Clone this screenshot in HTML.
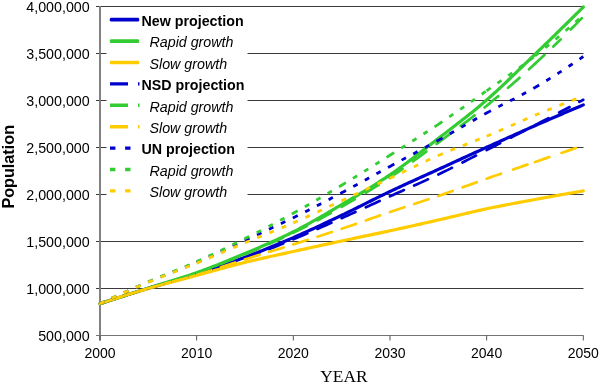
<!DOCTYPE html>
<html><head><meta charset="utf-8"><title>Population projections</title>
<style>
html,body{margin:0;padding:0;background:#fff;}
svg{display:block;}
text{font-family:"Liberation Sans",Arial,sans-serif;font-size:14px;fill:#000;}
.grid line{stroke:#3a3a3a;stroke-width:1;}
.ticks line{stroke:#555;stroke-width:1;}
.axis line{stroke:#7c7c7c;stroke-width:1.9;}
</style></head><body>
<svg width="600" height="385" viewBox="0 0 600 385">
<rect width="600" height="385" fill="#fff"/>
<g class="grid">
<line x1="96" x2="583.5" y1="6.50" y2="6.50"/>
<line x1="96" x2="583.5" y1="53.50" y2="53.50"/>
<line x1="96" x2="583.5" y1="100.50" y2="100.50"/>
<line x1="96" x2="583.5" y1="147.50" y2="147.50"/>
<line x1="96" x2="583.5" y1="194.50" y2="194.50"/>
<line x1="96" x2="583.5" y1="241.50" y2="241.50"/>
<line x1="96" x2="583.5" y1="288.50" y2="288.50"/>
<line x1="96" x2="583.5" y1="335.50" y2="335.50" style="stroke:#747474"/>
</g>
<rect x="106.5" y="8" width="141" height="193" fill="#fff"/>
<g class="axis"><line x1="100" x2="100" y1="6" y2="340.5"/></g>
<g class="ticks"><line x1="100.00" x2="100.00" y1="335.50" y2="340.50"/>
<line x1="196.66" x2="196.66" y1="335.50" y2="340.50"/>
<line x1="293.32" x2="293.32" y1="335.50" y2="340.50"/>
<line x1="389.98" x2="389.98" y1="335.50" y2="340.50"/>
<line x1="486.64" x2="486.64" y1="335.50" y2="340.50"/>
<line x1="583.30" x2="583.30" y1="335.50" y2="340.50"/></g>
<g>
<path d="M100.00 303.70 L102.42 302.90 L104.83 302.11 L107.25 301.32 L109.67 300.53 L112.08 299.75 L114.50 298.96 L116.92 298.18 L119.33 297.41 L121.75 296.63 L124.16 295.86 L126.58 295.09 L129.00 294.33 L131.41 293.56 L133.83 292.80 L136.25 292.05 L138.66 291.29 L141.08 290.54 L143.50 289.79 L145.91 289.04 L148.33 288.30 L150.75 287.56 L153.16 286.84 L155.58 286.12 L158.00 285.41 L160.41 284.70 L162.83 284.00 L165.25 283.31 L167.66 282.62 L170.08 281.92 L172.50 281.23 L174.91 280.54 L177.33 279.84 L179.74 279.14 L182.16 278.43 L184.58 277.72 L186.99 277.00 L189.41 276.26 L191.83 275.52 L194.24 274.77 L196.66 274.00 L199.08 273.22 L201.49 272.44 L203.91 271.65 L206.33 270.86 L208.74 270.06 L211.16 269.26 L213.58 268.45 L215.99 267.64 L218.41 266.82 L220.82 265.99 L223.24 265.15 L225.66 264.31 L228.07 263.46 L230.49 262.61 L232.91 261.74 L235.32 260.87 L237.74 259.99 L240.16 259.10 L242.57 258.21 L244.99 257.30 L247.41 256.39 L249.82 255.46 L252.24 254.53 L254.66 253.59 L257.07 252.65 L259.49 251.69 L261.91 250.73 L264.32 249.76 L266.74 248.78 L269.15 247.80 L271.57 246.81 L273.99 245.81 L276.40 244.81 L278.82 243.80 L281.24 242.78 L283.65 241.75 L286.07 240.72 L288.49 239.69 L290.90 238.65 L293.32 237.60 L295.74 236.55 L298.15 235.48 L300.57 234.41 L302.99 233.33 L305.40 232.24 L307.82 231.15 L310.24 230.05 L312.65 228.94 L315.07 227.83 L317.48 226.71 L319.90 225.58 L322.32 224.45 L324.73 223.32 L327.15 222.18 L329.57 221.04 L331.98 219.90 L334.40 218.75 L336.82 217.60 L339.23 216.45 L341.65 215.30 L344.07 214.14 L346.48 212.97 L348.90 211.80 L351.32 210.61 L353.73 209.42 L356.15 208.22 L358.57 207.01 L360.98 205.81 L363.40 204.60 L365.81 203.39 L368.23 202.18 L370.65 200.97 L373.06 199.76 L375.48 198.56 L377.90 197.37 L380.31 196.18 L382.73 194.99 L385.15 193.82 L387.56 192.65 L389.98 191.50 L392.40 190.36 L394.81 189.22 L397.23 188.09 L399.65 186.97 L402.06 185.86 L404.48 184.75 L406.90 183.64 L409.31 182.54 L411.73 181.44 L414.14 180.34 L416.56 179.25 L418.98 178.16 L421.39 177.07 L423.81 175.98 L426.23 174.89 L428.64 173.79 L431.06 172.70 L433.48 171.60 L435.89 170.50 L438.31 169.40 L440.73 168.29 L443.14 167.19 L445.56 166.08 L447.98 164.97 L450.39 163.86 L452.81 162.75 L455.23 161.65 L457.64 160.54 L460.06 159.43 L462.48 158.32 L464.89 157.21 L467.31 156.10 L469.72 155.00 L472.14 153.89 L474.56 152.79 L476.97 151.69 L479.39 150.59 L481.81 149.49 L484.22 148.39 L486.64 147.30 L489.06 146.21 L491.47 145.12 L493.89 144.03 L496.31 142.94 L498.72 141.85 L501.14 140.76 L503.56 139.67 L505.97 138.59 L508.39 137.50 L510.80 136.42 L513.22 135.34 L515.64 134.26 L518.05 133.18 L520.47 132.11 L522.89 131.03 L525.30 129.96 L527.72 128.89 L530.14 127.83 L532.55 126.76 L534.97 125.70 L537.39 124.64 L539.80 123.58 L542.22 122.53 L544.64 121.48 L547.05 120.42 L549.47 119.38 L551.89 118.33 L554.30 117.28 L556.72 116.24 L559.13 115.20 L561.55 114.16 L563.97 113.12 L566.38 112.09 L568.80 111.06 L571.22 110.03 L573.63 109.00 L576.05 107.97 L578.47 106.94 L580.88 105.92 L583.30 104.90" fill="none" stroke="#0000cc" stroke-width="3.2" stroke-linecap="round" stroke-linejoin="round"/>
<path d="M100.00 303.70 L102.42 302.92 L104.83 302.13 L107.25 301.35 L109.67 300.56 L112.08 299.78 L114.50 299.00 L116.92 298.22 L119.33 297.44 L121.75 296.66 L124.16 295.88 L126.58 295.10 L129.00 294.32 L131.41 293.54 L133.83 292.76 L136.25 291.98 L138.66 291.20 L141.08 290.43 L143.50 289.65 L145.91 288.88 L148.33 288.10 L150.75 287.33 L153.16 286.57 L155.58 285.82 L158.00 285.07 L160.41 284.33 L162.83 283.59 L165.25 282.85 L167.66 282.11 L170.08 281.37 L172.50 280.62 L174.91 279.88 L177.33 279.12 L179.74 278.36 L182.16 277.59 L184.58 276.81 L186.99 276.02 L189.41 275.21 L191.83 274.39 L194.24 273.56 L196.66 272.70 L199.08 271.83 L201.49 270.95 L203.91 270.05 L206.33 269.14 L208.74 268.23 L211.16 267.30 L213.58 266.36 L215.99 265.41 L218.41 264.46 L220.82 263.49 L223.24 262.52 L225.66 261.54 L228.07 260.56 L230.49 259.56 L232.91 258.56 L235.32 257.56 L237.74 256.55 L240.16 255.54 L242.57 254.52 L244.99 253.50 L247.41 252.48 L249.82 251.46 L252.24 250.43 L254.66 249.41 L257.07 248.38 L259.49 247.35 L261.91 246.31 L264.32 245.26 L266.74 244.21 L269.15 243.15 L271.57 242.08 L273.99 241.00 L276.40 239.90 L278.82 238.79 L281.24 237.67 L283.65 236.53 L286.07 235.38 L288.49 234.20 L290.90 233.01 L293.32 231.80 L295.74 230.57 L298.15 229.31 L300.57 228.04 L302.99 226.75 L305.40 225.45 L307.82 224.13 L310.24 222.79 L312.65 221.44 L315.07 220.08 L317.48 218.71 L319.90 217.32 L322.32 215.93 L324.73 214.53 L327.15 213.12 L329.57 211.71 L331.98 210.29 L334.40 208.87 L336.82 207.45 L339.23 206.03 L341.65 204.60 L344.07 203.18 L346.48 201.75 L348.90 200.33 L351.32 198.91 L353.73 197.49 L356.15 196.06 L358.57 194.62 L360.98 193.18 L363.40 191.73 L365.81 190.27 L368.23 188.80 L370.65 187.31 L373.06 185.81 L375.48 184.30 L377.90 182.77 L380.31 181.22 L382.73 179.65 L385.15 178.05 L387.56 176.44 L389.98 174.80 L392.40 173.13 L394.81 171.44 L397.23 169.73 L399.65 167.99 L402.06 166.23 L404.48 164.46 L406.90 162.66 L409.31 160.85 L411.73 159.03 L414.14 157.19 L416.56 155.35 L418.98 153.49 L421.39 151.63 L423.81 149.76 L426.23 147.88 L428.64 146.00 L431.06 144.13 L433.48 142.25 L435.89 140.37 L438.31 138.50 L440.73 136.63 L443.14 134.77 L445.56 132.91 L447.98 131.06 L450.39 129.20 L452.81 127.34 L455.23 125.47 L457.64 123.60 L460.06 121.73 L462.48 119.84 L464.89 117.94 L467.31 116.02 L469.72 114.09 L472.14 112.15 L474.56 110.18 L476.97 108.20 L479.39 106.19 L481.81 104.15 L484.22 102.09 L486.64 100.00 L489.06 97.88 L491.47 95.73 L493.89 93.55 L496.31 91.35 L498.72 89.12 L501.14 86.87 L503.56 84.60 L505.97 82.32 L508.39 80.01 L510.80 77.70 L513.22 75.37 L515.64 73.04 L518.05 70.70 L520.47 68.35 L522.89 66.01 L525.30 63.66 L527.72 61.31 L530.14 58.97 L532.55 56.63 L534.97 54.30 L537.39 51.97 L539.80 49.64 L542.22 47.31 L544.64 44.97 L547.05 42.62 L549.47 40.28 L551.89 37.93 L554.30 35.57 L556.72 33.21 L559.13 30.85 L561.55 28.48 L563.97 26.11 L566.38 23.74 L568.80 21.36 L571.22 18.97 L573.63 16.59 L576.05 14.20 L578.47 11.80 L580.88 9.40 L583.30 7.00" fill="none" stroke="#33cc33" stroke-width="3.2" stroke-linecap="round" stroke-linejoin="round"/>
<path d="M100.00 303.70 L102.42 302.89 L104.83 302.09 L107.25 301.29 L109.67 300.49 L112.08 299.70 L114.50 298.92 L116.92 298.14 L119.33 297.37 L121.75 296.60 L124.16 295.84 L126.58 295.08 L129.00 294.33 L131.41 293.58 L133.83 292.84 L136.25 292.10 L138.66 291.37 L141.08 290.65 L143.50 289.93 L145.91 289.21 L148.33 288.50 L150.75 287.80 L153.16 287.10 L155.58 286.42 L158.00 285.74 L160.41 285.08 L162.83 284.41 L165.25 283.76 L167.66 283.10 L170.08 282.46 L172.50 281.81 L174.91 281.17 L177.33 280.53 L179.74 279.89 L182.16 279.26 L184.58 278.62 L186.99 277.98 L189.41 277.34 L191.83 276.70 L194.24 276.05 L196.66 275.40 L199.08 274.75 L201.49 274.09 L203.91 273.42 L206.33 272.76 L208.74 272.09 L211.16 271.43 L213.58 270.76 L215.99 270.09 L218.41 269.43 L220.82 268.76 L223.24 268.10 L225.66 267.44 L228.07 266.79 L230.49 266.14 L232.91 265.50 L235.32 264.86 L237.74 264.24 L240.16 263.61 L242.57 263.00 L244.99 262.40 L247.41 261.81 L249.82 261.22 L252.24 260.65 L254.66 260.08 L257.07 259.52 L259.49 258.96 L261.91 258.41 L264.32 257.87 L266.74 257.33 L269.15 256.79 L271.57 256.26 L273.99 255.73 L276.40 255.20 L278.82 254.67 L281.24 254.15 L283.65 253.62 L286.07 253.09 L288.49 252.56 L290.90 252.03 L293.32 251.50 L295.74 250.97 L298.15 250.43 L300.57 249.90 L302.99 249.37 L305.40 248.84 L307.82 248.31 L310.24 247.78 L312.65 247.26 L315.07 246.73 L317.48 246.21 L319.90 245.68 L322.32 245.16 L324.73 244.64 L327.15 244.12 L329.57 243.59 L331.98 243.07 L334.40 242.55 L336.82 242.04 L339.23 241.52 L341.65 241.00 L344.07 240.48 L346.48 239.97 L348.90 239.46 L351.32 238.95 L353.73 238.44 L356.15 237.94 L358.57 237.43 L360.98 236.93 L363.40 236.42 L365.81 235.92 L368.23 235.41 L370.65 234.91 L373.06 234.40 L375.48 233.89 L377.90 233.39 L380.31 232.87 L382.73 232.36 L385.15 231.84 L387.56 231.32 L389.98 230.80 L392.40 230.27 L394.81 229.75 L397.23 229.22 L399.65 228.68 L402.06 228.15 L404.48 227.62 L406.90 227.08 L409.31 226.54 L411.73 226.00 L414.14 225.46 L416.56 224.92 L418.98 224.38 L421.39 223.83 L423.81 223.29 L426.23 222.74 L428.64 222.20 L431.06 221.65 L433.48 221.10 L435.89 220.55 L438.31 220.00 L440.73 219.45 L443.14 218.89 L445.56 218.32 L447.98 217.76 L450.39 217.18 L452.81 216.61 L455.23 216.03 L457.64 215.46 L460.06 214.88 L462.48 214.31 L464.89 213.73 L467.31 213.16 L469.72 212.60 L472.14 212.03 L474.56 211.48 L476.97 210.92 L479.39 210.38 L481.81 209.84 L484.22 209.32 L486.64 208.80 L489.06 208.29 L491.47 207.79 L493.89 207.30 L496.31 206.81 L498.72 206.33 L501.14 205.85 L503.56 205.38 L505.97 204.91 L508.39 204.45 L510.80 203.99 L513.22 203.53 L515.64 203.08 L518.05 202.63 L520.47 202.18 L522.89 201.73 L525.30 201.28 L527.72 200.84 L530.14 200.39 L532.55 199.95 L534.97 199.50 L537.39 199.05 L539.80 198.61 L542.22 198.17 L544.64 197.72 L547.05 197.28 L549.47 196.85 L551.89 196.41 L554.30 195.98 L556.72 195.54 L559.13 195.11 L561.55 194.68 L563.97 194.26 L566.38 193.83 L568.80 193.41 L571.22 192.98 L573.63 192.56 L576.05 192.15 L578.47 191.73 L580.88 191.31 L583.30 190.90" fill="none" stroke="#ffcc00" stroke-width="3.2" stroke-linecap="round" stroke-linejoin="round"/>
<path d="M100.00 303.70 L103.02 302.70 L106.04 301.70 L109.06 300.71 L112.08 299.73 L115.10 298.75 L118.12 297.77 L121.14 296.80 L124.16 295.84 M124.16 295.84 L127.19 294.88 L130.21 293.92 L133.23 292.97 L136.25 292.03 L139.27 291.09 L142.29 290.15 L145.31 289.22 L148.33 288.30 M148.33 288.30 L151.35 287.39 L154.37 286.49 L157.39 285.60 L160.41 284.73 L163.43 283.86 L166.45 283.00 L169.47 282.14 L172.50 281.29 M172.50 281.29 L175.52 280.43 L178.54 279.57 L181.56 278.70 L184.58 277.83 L187.60 276.94 L190.62 276.04 L193.64 275.13 L196.66 274.20 M196.66 274.20 L199.68 273.26 L202.70 272.31 L205.72 271.36 L208.74 270.40 L211.76 269.44 L214.78 268.47 L217.80 267.49 L220.82 266.50 M220.82 266.50 L223.85 265.50 L226.87 264.50 L229.89 263.48 L232.91 262.45 L235.93 261.41 L238.95 260.35 L241.97 259.28 L244.99 258.20 M244.99 258.20 L248.01 257.10 L251.03 255.99 L254.05 254.87 L257.07 253.73 L260.09 252.58 L263.11 251.42 L266.13 250.25 L269.15 249.07 M269.15 249.07 L272.18 247.88 L275.20 246.68 L278.22 245.47 L281.24 244.25 L284.26 243.02 L287.28 241.79 L290.30 240.55 L293.32 239.30 M293.32 239.30 L296.34 238.04 L299.36 236.77 L302.38 235.49 L305.40 234.20 L308.42 232.90 L311.44 231.58 L314.46 230.26 L317.48 228.94 M317.48 228.94 L320.51 227.61 L323.53 226.27 L326.55 224.93 L329.57 223.58 L332.59 222.24 L335.61 220.89 L338.63 219.54 L341.65 218.20 M341.65 218.20 L344.67 216.85 L347.69 215.50 L350.71 214.14 L353.73 212.78 L356.75 211.41 L359.77 210.04 L362.79 208.67 L365.81 207.29 M365.81 207.29 L368.84 205.92 L371.86 204.54 L374.88 203.16 L377.90 201.79 L380.92 200.41 L383.94 199.04 L386.96 197.67 L389.98 196.30 M389.98 196.30 L393.00 194.94 L396.02 193.59 L399.04 192.24 L402.06 190.90 L405.08 189.57 L408.10 188.23 L411.12 186.90 L414.14 185.56 M414.14 185.56 L417.17 184.21 L420.19 182.86 L423.21 181.50 L426.23 180.13 L429.25 178.75 L432.27 177.35 L435.29 175.93 L438.31 174.50 M438.31 174.50 L441.33 173.05 L444.35 171.58 L447.37 170.09 L450.39 168.59 L453.41 167.08 L456.43 165.56 L459.45 164.03 L462.48 162.49 M462.48 162.49 L465.50 160.95 L468.52 159.40 L471.54 157.85 L474.56 156.30 L477.58 154.74 L480.60 153.19 L483.62 151.64 L486.64 150.10 M486.64 150.10 L489.66 148.56 L492.68 147.01 L495.70 145.47 L498.72 143.92 L501.74 142.37 L504.76 140.82 L507.78 139.27 L510.80 137.71 M510.80 137.71 L513.83 136.16 L516.85 134.60 L519.87 133.03 L522.89 131.47 L525.91 129.91 L528.93 128.34 L531.95 126.77 L534.97 125.20 M534.97 125.20 L537.99 123.63 L541.01 122.05 L544.03 120.48 L547.05 118.90 L550.07 117.32 L553.09 115.73 L556.11 114.15 L559.13 112.56" fill="none" stroke="#0000cc" stroke-width="2.7" stroke-dasharray="15.2 12.8" stroke-linecap="round"/>
<path d="M559.13 112.56 L561.55 111.29 L563.97 110.02 L566.38 108.75 L568.80 107.47 L571.22 106.20 L573.63 104.92 L576.05 103.64 L578.47 102.36 L580.88 101.08 L583.30 99.80" fill="none" stroke="#0000cc" stroke-width="2.7" stroke-dasharray="11.8 11 20 50" stroke-linecap="round"/>
<path d="M100.00 303.70 L103.02 302.73 L106.04 301.75 L109.06 300.78 L112.08 299.81 L115.10 298.83 L118.12 297.86 L121.14 296.89 L124.16 295.93 M124.16 295.93 L127.19 294.96 L130.21 293.99 L133.23 293.02 L136.25 292.06 L139.27 291.09 L142.29 290.13 L145.31 289.16 L148.33 288.20 M148.33 288.20 L151.35 287.24 L154.37 286.30 L157.39 285.37 L160.41 284.44 L163.43 283.52 L166.45 282.60 L169.47 281.68 L172.50 280.75 M172.50 280.75 L175.52 279.82 L178.54 278.88 L181.56 277.93 L184.58 276.96 L187.60 275.98 L190.62 274.97 L193.64 273.95 L196.66 272.90 M196.66 272.90 L199.68 271.83 L202.70 270.74 L205.72 269.64 L208.74 268.53 L211.76 267.40 L214.78 266.26 L217.80 265.10 L220.82 263.93 M220.82 263.93 L223.85 262.75 L226.87 261.56 L229.89 260.36 L232.91 259.14 L235.93 257.92 L238.95 256.69 L241.97 255.45 L244.99 254.20 M244.99 254.20 L248.01 252.94 L251.03 251.68 L254.05 250.42 L257.07 249.15 L260.09 247.86 L263.11 246.57 L266.13 245.27 L269.15 243.95 M269.15 243.95 L272.18 242.62 L275.20 241.27 L278.22 239.91 L281.24 238.53 L284.26 237.13 L287.28 235.71 L290.30 234.27 L293.32 232.80 M293.32 232.80 L296.34 231.31 L299.36 229.80 L302.38 228.27 L305.40 226.72 L308.42 225.16 L311.44 223.57 L314.46 221.97 L317.48 220.35 M317.48 220.35 L320.51 218.72 L323.53 217.07 L326.55 215.40 L329.57 213.73 L332.59 212.04 L335.61 210.34 L338.63 208.62 L341.65 206.90 M341.65 206.90 L344.67 205.17 L347.69 203.43 L350.71 201.68 L353.73 199.93 L356.75 198.16 L359.77 196.37 L362.79 194.58 L365.81 192.76 M365.81 192.76 L368.84 190.93 L371.86 189.08 L374.88 187.21 L377.90 185.32 L380.92 183.40 L383.94 181.46 L386.96 179.49 L389.98 177.50 M389.98 177.50 L393.00 175.47 L396.02 173.41 L399.04 171.32 L402.06 169.21 L405.08 167.06 L408.10 164.90 L411.12 162.71 L414.14 160.51 M414.14 160.51 L417.17 158.30 L420.19 156.07 L423.21 153.83 L426.23 151.59 L429.25 149.34 L432.27 147.09 L435.29 144.84 L438.31 142.60 M438.31 142.60 L441.33 140.36 L444.35 138.13 L447.37 135.89 L450.39 133.66 L453.41 131.41 L456.43 129.17 L459.45 126.91 L462.48 124.64 M462.48 124.64 L465.50 122.36 L468.52 120.06 L471.54 117.75 L474.56 115.41 L477.58 113.05 L480.60 110.66 L483.62 108.25 L486.64 105.80 M486.64 105.80 L489.66 103.33 L492.68 100.83 L495.70 98.32 L498.72 95.79 L501.74 93.23 L504.76 90.65 L507.78 88.06 L510.80 85.44 L513.83 82.81 L516.85 80.15 L519.87 77.48 L522.89 74.78 L525.91 72.06 L528.93 69.33 L531.95 66.57 L534.97 63.80" fill="none" stroke="#33cc33" stroke-width="2.7" stroke-dasharray="15.2 12.8" stroke-linecap="round"/>
<path d="M534.97 63.80 L537.39 61.57 L539.80 59.32 L542.22 57.06 L544.64 54.79 L547.05 52.50 L549.47 50.21 L551.89 47.90 L554.30 45.57 L556.72 43.24 L559.13 40.89 L561.55 38.53 L563.97 36.15 L566.38 33.77 L568.80 31.37 L571.22 28.95 L573.63 26.53 L576.05 24.09 L578.47 21.64 L580.88 19.18 L583.30 16.70" fill="none" stroke="#33cc33" stroke-width="2.7" stroke-dasharray="13 12 10.5 14 16 50" stroke-linecap="round"/>
<path d="M100.00 303.70 L103.02 302.69 L106.04 301.68 L109.06 300.69 L112.08 299.70 L115.10 298.71 L118.12 297.74 L121.14 296.77 L124.16 295.81 M124.16 295.81 L127.19 294.86 L130.21 293.91 L133.23 292.98 L136.25 292.05 L139.27 291.12 L142.29 290.21 L145.31 289.30 L148.33 288.40 M148.33 288.40 L151.35 287.51 L154.37 286.65 L157.39 285.80 L160.41 284.97 L163.43 284.15 L166.45 283.33 L169.47 282.52 L172.50 281.72 M172.50 281.72 L175.52 280.91 L178.54 280.10 L181.56 279.29 L184.58 278.46 L187.60 277.62 L190.62 276.77 L193.64 275.89 L196.66 275.00 M196.66 275.00 L199.68 274.08 L202.70 273.15 L205.72 272.20 L208.74 271.24 L211.76 270.27 L214.78 269.28 L217.80 268.29 L220.82 267.30 M220.82 267.30 L223.85 266.30 L226.87 265.30 L229.89 264.30 L232.91 263.31 L235.93 262.32 L238.95 261.34 L241.97 260.36 L244.99 259.40 M244.99 259.40 L248.01 258.45 L251.03 257.50 L254.05 256.56 L257.07 255.62 L260.09 254.69 L263.11 253.76 L266.13 252.83 L269.15 251.90 M269.15 251.90 L272.18 250.97 L275.20 250.04 L278.22 249.11 L281.24 248.18 L284.26 247.24 L287.28 246.30 L290.30 245.35 L293.32 244.40 M293.32 244.40 L296.34 243.44 L299.36 242.49 L302.38 241.53 L305.40 240.57 L308.42 239.61 L311.44 238.65 L314.46 237.68 L317.48 236.71 M317.48 236.71 L320.51 235.74 L323.53 234.76 L326.55 233.78 L329.57 232.80 L332.59 231.81 L335.61 230.81 L338.63 229.81 L341.65 228.80 M341.65 228.80 L344.67 227.78 L347.69 226.75 L350.71 225.71 L353.73 224.67 L356.75 223.61 L359.77 222.55 L362.79 221.49 L365.81 220.43 M365.81 220.43 L368.84 219.36 L371.86 218.29 L374.88 217.23 L377.90 216.17 L380.92 215.12 L383.94 214.07 L386.96 213.03 L389.98 212.00 M389.98 212.00 L393.00 210.98 L396.02 209.97 L399.04 208.97 L402.06 207.97 L405.08 206.98 L408.10 206.00 L411.12 205.01 L414.14 204.03 M414.14 204.03 L417.17 203.05 L420.19 202.06 L423.21 201.07 L426.23 200.07 L429.25 199.07 L432.27 198.06 L435.29 197.03 L438.31 196.00 M438.31 196.00 L441.33 194.95 L444.35 193.90 L447.37 192.83 L450.39 191.75 L453.41 190.67 L456.43 189.58 L459.45 188.49 L462.48 187.39 M462.48 187.39 L465.50 186.30 L468.52 185.20 L471.54 184.11 L474.56 183.01 L477.58 181.93 L480.60 180.84 L483.62 179.77 L486.64 178.70 M486.64 178.70 L489.66 177.64 L492.68 176.58 L495.70 175.53 L498.72 174.48 L501.74 173.43 L504.76 172.38 L507.78 171.34 L510.80 170.30 L513.83 169.26 L516.85 168.22 L519.87 167.18 L522.89 166.15 L525.91 165.11 L528.93 164.07 L531.95 163.04 L534.97 162.00 M534.97 162.00 L537.99 160.96 L541.01 159.93 L544.03 158.89 L547.05 157.86 L550.07 156.82 L553.09 155.79 L556.11 154.76 L559.13 153.73 L562.16 152.69 L565.18 151.66 L568.20 150.63 L571.22 149.61 L574.24 148.58 L577.26 147.55 L580.28 146.53 L583.30 145.50" fill="none" stroke="#ffcc00" stroke-width="2.7" stroke-dasharray="15.2 12.8" stroke-linecap="round"/>
<path d="M100.00 303.70 L103.02 302.28 L106.04 300.87 L109.06 299.47 L112.08 298.08 L115.10 296.69 L118.12 295.32 L121.14 293.95 L124.16 292.59 L127.19 291.24 L130.21 289.89 L133.23 288.56 L136.25 287.23 L139.27 285.91 L142.29 284.60 L145.31 283.29 L148.33 282.00 M148.33 282.00 L151.35 280.72 L154.37 279.47 L157.39 278.23 L160.41 277.01 L163.43 275.80 L166.45 274.60 L169.47 273.41 L172.50 272.22 L175.52 271.03 L178.54 269.83 L181.56 268.63 L184.58 267.42 L187.60 266.19 L190.62 264.95 L193.64 263.69 L196.66 262.40 M196.66 262.40 L199.68 261.09 L202.70 259.77 L205.72 258.43 L208.74 257.09 L211.76 255.73 L214.78 254.36 L217.80 252.98 L220.82 251.59 L223.85 250.20 L226.87 248.81 L229.89 247.41 L232.91 246.01 L235.93 244.60 L238.95 243.20 L241.97 241.80 L244.99 240.40 M244.99 240.40 L248.01 239.00 L251.03 237.61 L254.05 236.22 L257.07 234.83 L260.09 233.43 L263.11 232.04 L266.13 230.64 L269.15 229.23 L272.18 227.82 L275.20 226.40 L278.22 224.98 L281.24 223.55 L284.26 222.10 L287.28 220.65 L290.30 219.18 L293.32 217.70 M293.32 217.70 L296.34 216.21 L299.36 214.70 L302.38 213.19 L305.40 211.66 L308.42 210.13 L311.44 208.59 L314.46 207.04 L317.48 205.48 L320.51 203.92 L323.53 202.34 L326.55 200.77 L329.57 199.18 L332.59 197.59 L335.61 196.00 L338.63 194.40 L341.65 192.80 M341.65 192.80 L344.67 191.19 L347.69 189.57 L350.71 187.94 L353.73 186.30 L356.75 184.65 L359.77 183.00 L362.79 181.34 L365.81 179.68 L368.84 178.01 L371.86 176.34 L374.88 174.68 L377.90 173.01 L380.92 171.35 L383.94 169.70 L386.96 168.04 L389.98 166.40 M389.98 166.40 L393.00 164.76 L396.02 163.13 L399.04 161.50 L402.06 159.88 L405.08 158.26 L408.10 156.64 L411.12 155.03 L414.14 153.41 L417.17 151.79 L420.19 150.16 L423.21 148.53 L426.23 146.90 L429.25 145.26 L432.27 143.62 L435.29 141.96 L438.31 140.30 M438.31 140.30 L441.33 138.62 L444.35 136.93 L447.37 135.23 L450.39 133.52 L453.41 131.80 L456.43 130.07 L459.45 128.34 L462.48 126.61 L465.50 124.88 L468.52 123.16 L471.54 121.44 L474.56 119.73 L477.58 118.02 L480.60 116.33 L483.62 114.66 L486.64 113.00 M486.64 113.00 L489.66 111.37 L492.68 109.76 L495.70 108.19 L498.72 106.63 L501.74 105.08 L504.76 103.55 L507.78 102.02 L510.80 100.48 L513.83 98.94 L516.85 97.39 L519.87 95.81 L522.89 94.22 L525.91 92.60 L528.93 90.94 L531.95 89.24 L534.97 87.50 M534.97 87.50 L537.99 85.72 L541.01 83.93 L544.03 82.11 L547.05 80.27 L550.07 78.40 L553.09 76.52 L556.11 74.61 L559.13 72.69 L562.16 70.74 L565.18 68.77 L568.20 66.78 L571.22 64.77 L574.24 62.73 L577.26 60.68 L580.28 58.60 L583.30 56.50" fill="none" stroke="#0000cc" stroke-width="2.8" stroke-dasharray="4.9 8.3"/>
<path d="M100.00 303.70 L103.02 302.28 L106.04 300.87 L109.06 299.46 L112.08 298.07 L115.10 296.67 L118.12 295.29 L121.14 293.91 L124.16 292.54 L127.19 291.17 L130.21 289.81 L133.23 288.46 L136.25 287.12 L139.27 285.78 L142.29 284.44 L145.31 283.12 L148.33 281.80 M148.33 281.80 L151.35 280.50 L154.37 279.21 L157.39 277.95 L160.41 276.70 L163.43 275.46 L166.45 274.22 L169.47 273.00 L172.50 271.77 L175.52 270.54 L178.54 269.31 L181.56 268.06 L184.58 266.81 L187.60 265.54 L190.62 264.25 L193.64 262.94 L196.66 261.60 M196.66 261.60 L199.68 260.24 L202.70 258.88 L205.72 257.50 L208.74 256.10 L211.76 254.70 L214.78 253.29 L217.80 251.86 L220.82 250.43 L223.85 248.98 L226.87 247.52 L229.89 246.06 L232.91 244.58 L235.93 243.10 L238.95 241.61 L241.97 240.11 L244.99 238.60 M244.99 238.60 L248.01 237.08 L251.03 235.56 L254.05 234.02 L257.07 232.48 L260.09 230.93 L263.11 229.37 L266.13 227.79 L269.15 226.21 L272.18 224.62 L275.20 223.02 L278.22 221.41 L281.24 219.79 L284.26 218.16 L287.28 216.52 L290.30 214.86 L293.32 213.20 M293.32 213.20 L296.34 211.53 L299.36 209.84 L302.38 208.14 L305.40 206.43 L308.42 204.71 L311.44 202.98 L314.46 201.24 L317.48 199.49 L320.51 197.73 L323.53 195.96 L326.55 194.18 L329.57 192.40 L332.59 190.61 L335.61 188.81 L338.63 187.01 L341.65 185.20 M341.65 185.20 L344.67 183.38 L347.69 181.55 L350.71 179.71 L353.73 177.86 L356.75 176.00 L359.77 174.14 L362.79 172.26 L365.81 170.38 L368.84 168.49 L371.86 166.60 L374.88 164.71 L377.90 162.81 L380.92 160.91 L383.94 159.01 L386.96 157.10 L389.98 155.20 M389.98 155.20 L393.00 153.30 L396.02 151.40 L399.04 149.50 L402.06 147.60 L405.08 145.70 L408.10 143.79 L411.12 141.88 L414.14 139.97 L417.17 138.05 L420.19 136.12 L423.21 134.18 L426.23 132.23 L429.25 130.27 L432.27 128.29 L435.29 126.30 L438.31 124.30 M438.31 124.30 L441.33 122.28 L444.35 120.25 L447.37 118.20 L450.39 116.14 L453.41 114.07 L456.43 111.99 L459.45 109.89 L462.48 107.79 L465.50 105.69 L468.52 103.57 L471.54 101.45 L474.56 99.33 L477.58 97.20 L480.60 95.07 L483.62 92.93 L486.64 90.80 M486.64 90.80 L489.66 88.67 L492.68 86.55 L495.70 84.44 L498.72 82.34 L501.74 80.23 L504.76 78.12 L507.78 76.00 L510.80 73.87 L513.83 71.72 L516.85 69.56 L519.87 67.38 L522.89 65.17 L525.91 62.93 L528.93 60.66 L531.95 58.35 L534.97 56.00 M534.97 56.00 L537.99 53.62 L541.01 51.21 L544.03 48.78 L547.05 46.33 L550.07 43.85 L553.09 41.35 L556.11 38.83 L559.13 36.27 L562.16 33.70 L565.18 31.10 L568.20 28.48 L571.22 25.83 L574.24 23.16 L577.26 20.46 L580.28 17.74 L583.30 15.00" fill="none" stroke="#33cc33" stroke-width="2.8" stroke-dasharray="4.9 8.3"/>
<path d="M100.00 303.70 L103.02 302.28 L106.04 300.88 L109.06 299.48 L112.08 298.09 L115.10 296.71 L118.12 295.34 L121.14 293.99 L124.16 292.64 L127.19 291.30 L130.21 289.97 L133.23 288.65 L136.25 287.34 L139.27 286.04 L142.29 284.75 L145.31 283.47 L148.33 282.20 M148.33 282.20 L151.35 280.95 L154.37 279.71 L157.39 278.50 L160.41 277.31 L163.43 276.12 L166.45 274.95 L169.47 273.79 L172.50 272.63 L175.52 271.47 L178.54 270.32 L181.56 269.16 L184.58 267.99 L187.60 266.81 L190.62 265.62 L193.64 264.42 L196.66 263.20 M196.66 263.20 L199.68 261.96 L202.70 260.71 L205.72 259.45 L208.74 258.19 L211.76 256.91 L214.78 255.63 L217.80 254.34 L220.82 253.06 L223.85 251.77 L226.87 250.47 L229.89 249.19 L232.91 247.90 L235.93 246.61 L238.95 245.34 L241.97 244.06 L244.99 242.80 M244.99 242.80 L248.01 241.55 L251.03 240.30 L254.05 239.07 L257.07 237.84 L260.09 236.62 L263.11 235.40 L266.13 234.18 L269.15 232.96 L272.18 231.74 L275.20 230.51 L278.22 229.27 L281.24 228.03 L284.26 226.77 L287.28 225.49 L290.30 224.21 L293.32 222.90 M293.32 222.90 L296.34 221.58 L299.36 220.24 L302.38 218.88 L305.40 217.52 L308.42 216.14 L311.44 214.76 L314.46 213.36 L317.48 211.96 L320.51 210.56 L323.53 209.15 L326.55 207.74 L329.57 206.32 L332.59 204.91 L335.61 203.51 L338.63 202.10 L341.65 200.70 M341.65 200.70 L344.67 199.30 L347.69 197.90 L350.71 196.50 L353.73 195.10 L356.75 193.70 L359.77 192.29 L362.79 190.89 L365.81 189.48 L368.84 188.07 L371.86 186.67 L374.88 185.26 L377.90 183.85 L380.92 182.44 L383.94 181.02 L386.96 179.61 L389.98 178.20 M389.98 178.20 L393.00 176.78 L396.02 175.35 L399.04 173.91 L402.06 172.46 L405.08 171.01 L408.10 169.55 L411.12 168.10 L414.14 166.65 L417.17 165.21 L420.19 163.77 L423.21 162.35 L426.23 160.94 L429.25 159.55 L432.27 158.18 L435.29 156.83 L438.31 155.50 M438.31 155.50 L441.33 154.20 L444.35 152.94 L447.37 151.69 L450.39 150.47 L453.41 149.27 L456.43 148.08 L459.45 146.91 L462.48 145.74 L465.50 144.57 L468.52 143.41 L471.54 142.24 L474.56 141.06 L477.58 139.87 L480.60 138.67 L483.62 137.44 L486.64 136.20 M486.64 136.20 L489.66 134.93 L492.68 133.65 L495.70 132.35 L498.72 131.05 L501.74 129.73 L504.76 128.40 L507.78 127.07 L510.80 125.74 L513.83 124.41 L516.85 123.08 L519.87 121.75 L522.89 120.44 L525.91 119.13 L528.93 117.84 L531.95 116.56 L534.97 115.30 M534.97 115.30 L537.99 114.05 L541.01 112.81 L544.03 111.58 L547.05 110.36 L550.07 109.14 L553.09 107.93 L556.11 106.72 L559.13 105.53 L562.16 104.33 L565.18 103.15 L568.20 101.98 L571.22 100.81 L574.24 99.64 L577.26 98.49 L580.28 97.34 L583.30 96.20" fill="none" stroke="#ffcc00" stroke-width="2.8" stroke-dasharray="4.9 8.3"/>
</g>
<g>
<rect x="109.8" y="17.85" width="29.4" height="3.7" rx="1.3" fill="#0000cc"/>
<text x="141.5" y="25.90" style="font-weight:bold;font-size:14.25px">New projection</text>
<rect x="109.8" y="39.25" width="29.4" height="3.7" rx="1.3" fill="#33cc33"/>
<text x="149.5" y="47.30" style="font-style:italic;font-size:14.25px">Rapid growth</text>
<rect x="109.8" y="60.65" width="29.4" height="3.7" rx="1.3" fill="#ffcc00"/>
<text x="149.5" y="68.70" style="font-style:italic;font-size:14.25px">Slow growth</text>
<line x1="110" x2="139.5" y1="83.90" y2="83.90" stroke="#0000cc" stroke-width="3.4" stroke-dasharray="18 10"/>
<text x="141.5" y="90.10" style="font-weight:bold;font-size:14.25px">NSD projection</text>
<line x1="110" x2="139.5" y1="105.30" y2="105.30" stroke="#33cc33" stroke-width="3.4" stroke-dasharray="18 10"/>
<text x="149.5" y="111.50" style="font-style:italic;font-size:14.25px">Rapid growth</text>
<line x1="110" x2="139.5" y1="126.70" y2="126.70" stroke="#ffcc00" stroke-width="3.4" stroke-dasharray="18 10"/>
<text x="149.5" y="132.90" style="font-style:italic;font-size:14.25px">Slow growth</text>
<line x1="110" x2="139.5" y1="148.10" y2="148.10" stroke="#0000cc" stroke-width="3.4" stroke-dasharray="5.4 9.7"/>
<text x="141.5" y="154.30" style="font-weight:bold;font-size:14.25px">UN projection</text>
<line x1="110" x2="139.5" y1="169.50" y2="169.50" stroke="#33cc33" stroke-width="3.4" stroke-dasharray="5.4 9.7"/>
<text x="149.5" y="175.70" style="font-style:italic;font-size:14.25px">Rapid growth</text>
<line x1="110" x2="139.5" y1="190.90" y2="190.90" stroke="#ffcc00" stroke-width="3.4" stroke-dasharray="5.4 9.7"/>
<text x="149.5" y="197.10" style="font-style:italic;font-size:14.25px">Slow growth</text>

</g>
<g>
<text x="89.7" y="11.60" text-anchor="end" style="font-size:14.25px">4,000,000</text>
<text x="89.7" y="58.60" text-anchor="end" style="font-size:14.25px">3,500,000</text>
<text x="89.7" y="105.60" text-anchor="end" style="font-size:14.25px">3,000,000</text>
<text x="89.7" y="152.60" text-anchor="end" style="font-size:14.25px">2,500,000</text>
<text x="89.7" y="199.60" text-anchor="end" style="font-size:14.25px">2,000,000</text>
<text x="89.7" y="246.60" text-anchor="end" style="font-size:14.25px">1,500,000</text>
<text x="89.7" y="293.60" text-anchor="end" style="font-size:14.25px">1,000,000</text>
<text x="89.7" y="340.60" text-anchor="end" style="font-size:14.25px">500,000</text>
<text x="100.00" y="358.3" text-anchor="middle">2000</text>
<text x="196.66" y="358.3" text-anchor="middle">2010</text>
<text x="293.32" y="358.3" text-anchor="middle">2020</text>
<text x="389.98" y="358.3" text-anchor="middle">2030</text>
<text x="486.64" y="358.3" text-anchor="middle">2040</text>
<text x="583.30" y="358.3" text-anchor="middle">2050</text>

</g>
<text transform="translate(13.9,208.6) rotate(-90)" style="font-weight:bold;font-size:16.2px">Population</text>
<text x="343.9" y="382.2" text-anchor="middle" style="font-family:'Liberation Serif','Times New Roman',serif;font-size:17.4px">YEAR</text>
</svg>
</body></html>
